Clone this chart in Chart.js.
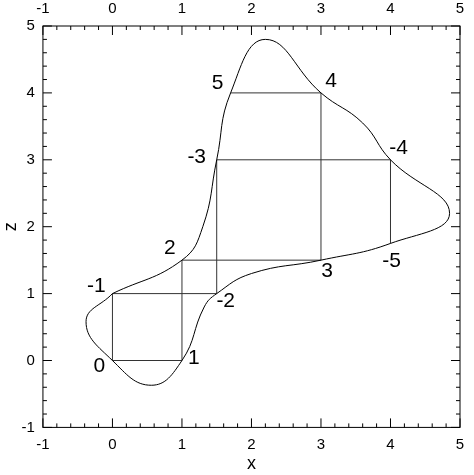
<!DOCTYPE html>
<html>
<head>
<meta charset="utf-8">
<script src="https://cdn.jsdelivr.net/npm/chart.js@4"></script>
<style>
  html, body { margin: 0; padding: 0; background: #fff; }
  #wrap { width: 474px; height: 475px; }
</style>
</head>
<body>
<div id="wrap"><canvas id="c"></canvas></div>
<script>
// closed outline (x, z)
const curveX = [0, -0.38, 0, 0.56, 1, 1.32, 1.5, 2, 3, 4, 4.85, 4, 3.6, 3, 2.2, 1.7, 1.5, 1.3, 1, 0];
const curveZ = [1, 0.58, 0, -0.37, 0, 0.8, 1, 1.3, 1.5, 1.75, 2.2, 3, 3.55, 4, 4.8, 4, 3, 2, 1.5, 1];

// inner grid segments [x1, z1, x2, z2]
const segments = [
  [0, 0, 1, 0], [0, 0, 0, 1], [0, 1, 1.5, 1], [1, 0, 1, 1.5],
  [1, 1.5, 3, 1.5], [1.5, 1, 1.5, 3], [1.5, 3, 4, 3],
  [3, 1.5, 3, 4], [1.7, 4, 3, 4], [4, 1.75, 4, 3]
];

// point labels
const labelText = ['0', '1', '-1', '-2', '2', '3', '-5', '-4', '-3', '5', '4'];
const labelX = [0, 1, 0, 1.5, 1, 3, 4, 4, 1.5, 1.7, 3];
const labelZ = [0, 0, 1, 1, 1.5, 1.5, 1.75, 3, 3, 4, 4];
const labelOffset = [[-13, 6], [12, -2], [-16, -7], [9, 8], [-12, -12], [6, 11], [1, 18], [8, -12], [-20, -3], [-13, -10], [10, -12]];

const ticks = [-1, 0, 1, 2, 3, 4, 5];

const datasets = [{
  data: curveX.map((x, i) => ({ x: x, y: curveZ[i] })),
  showLine: true, borderColor: '#000', borderWidth: 1, pointRadius: 0, tension: 0.45
}];
segments.forEach(s => datasets.push({
  data: [{ x: s[0], y: s[1] }, { x: s[2], y: s[3] }],
  showLine: true, borderColor: '#333', borderWidth: 1, pointRadius: 0, tension: 0
}));

const axisFont = { family: 'Liberation Sans', size: 15 };

// inward major/minor ticks + labels on points
const decor = {
  id: 'decor',
  afterDatasetsDraw(chart) {
    const c = chart.ctx, a = chart.chartArea;
    const sx = chart.scales.x, sy = chart.scales.y;
    c.save();
    c.strokeStyle = '#000';
    c.lineWidth = 1;
    c.strokeRect(a.left, a.top, a.right - a.left, a.bottom - a.top);
    c.beginPath();
    for (let k = 0; k <= 30; k++) {
      const v = -1 + k * 0.2;
      const len = k % 5 === 0 ? 9 : 4;
      const px = sx.getPixelForValue(v), py = sy.getPixelForValue(v);
      c.moveTo(px, a.bottom); c.lineTo(px, a.bottom - len);
      c.moveTo(px, a.top); c.lineTo(px, a.top + len);
      c.moveTo(a.left, py); c.lineTo(a.left + len, py);
      c.moveTo(a.right, py); c.lineTo(a.right - len, py);
    }
    c.stroke();
    c.fillStyle = '#000';
    c.font = '21px "Liberation Sans"';
    c.textAlign = 'center';
    c.textBaseline = 'middle';
    labelText.forEach((t, i) => {
      c.fillText(t, sx.getPixelForValue(labelX[i]) + labelOffset[i][0],
                    sy.getPixelForValue(labelZ[i]) + labelOffset[i][1]);
    });
    c.restore();
  }
};

const tickOpts = {
  autoSkip: false, color: '#000', font: axisFont, padding: 0
};

new Chart(document.getElementById('c'), {
  type: 'scatter',
  data: { datasets: datasets },
  options: {
    responsive: true, maintainAspectRatio: false, animation: false,
    layout: { padding: { right: 14, top: 0, bottom: 0, left: 0 } },
    plugins: { legend: { display: false }, tooltip: { enabled: false } },
    scales: {
      x: {
        type: 'linear', min: -1, max: 5, position: 'bottom',
        afterBuildTicks: s => { s.ticks = ticks.map(v => ({ value: v })); },
        ticks: tickOpts,
        grid: { display: false }, border: { display: false },
        title: { display: true, text: 'x', color: '#000', font: { family: 'Liberation Sans', size: 18 }, padding: 0 }
      },
      x2: {
        type: 'linear', min: -1, max: 5, position: 'top',
        afterBuildTicks: s => { s.ticks = ticks.map(v => ({ value: v })); },
        ticks: tickOpts,
        grid: { display: false }, border: { display: false }
      },
      y: {
        type: 'linear', min: -1, max: 5,
        afterBuildTicks: s => { s.ticks = ticks.map(v => ({ value: v })); },
        ticks: tickOpts,
        grid: { display: false }, border: { display: false },
        title: { display: true, text: 'z', color: '#000', font: { family: 'Liberation Sans', size: 18 }, padding: 0 }
      },
      y2: {
        type: 'linear', min: -1, max: 5, position: 'right', display: false
      }
    }
  },
  plugins: [decor]
});
</script>
</body>
</html>
